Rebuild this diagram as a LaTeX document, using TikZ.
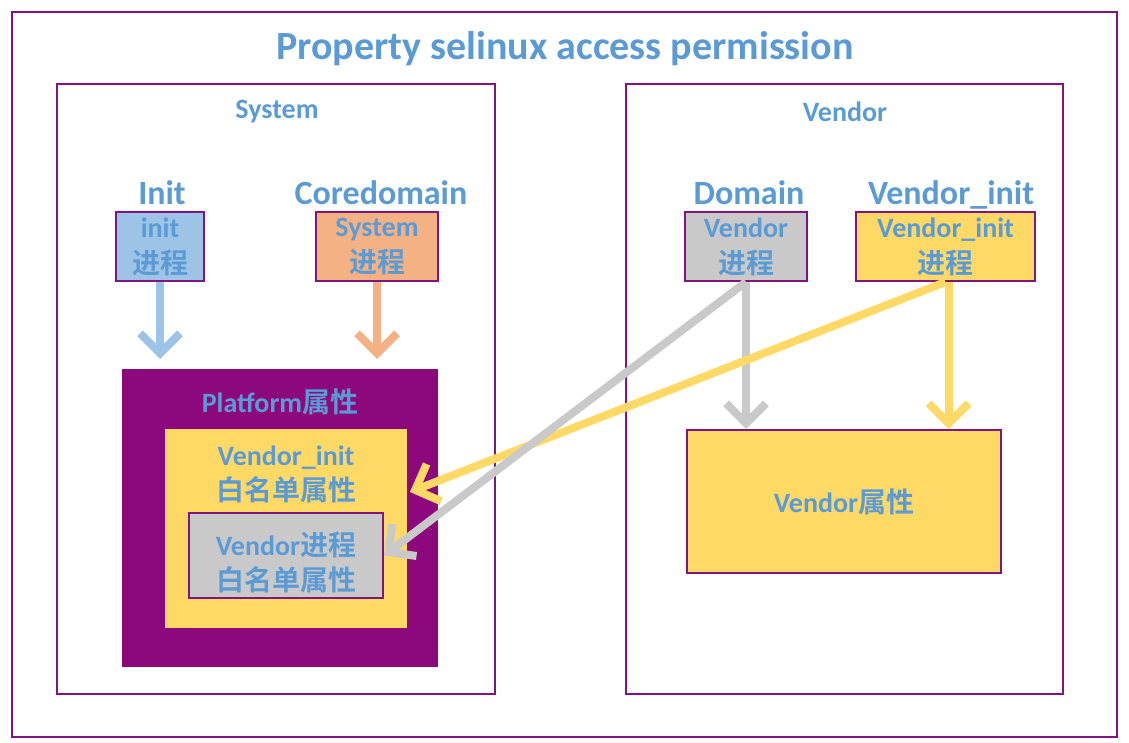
\documentclass[tikz,border=0pt]{standalone}
\usepackage{fontspec}
\setmainfont{Carlito}
\newfontfamily\cjk{Noto Sans CJK SC}[BoldFont={* Bold}]
\usetikzlibrary{arrows.meta,positioning}

\definecolor{txtblue}{RGB}{91,155,213}
\definecolor{lnpurple}{RGB}{128,20,128}
\definecolor{platpurple}{RGB}{140,8,124}
\definecolor{fillblue}{RGB}{157,195,230}
\definecolor{fillorange}{RGB}{244,177,131}
\definecolor{fillgray}{RGB}{201,201,201}
\definecolor{fillyellow}{RGB}{255,217,102}
\newcommand{\zh}[1]{{\cjk #1}}

\tikzset{
  area/.style={draw=lnpurple, line width=1.6pt, inner sep=0pt},
  box/.style={draw=lnpurple, line width=2pt, inner sep=0pt, align=center,
    font=\fontsize{28}{36}\selectfont\bfseries, text=txtblue},
  boxtxt/.style={inner sep=0pt, align=center, text=txtblue,
    font=\fontsize{28}{35}\selectfont\bfseries},
  toplbl/.style={inner sep=0pt, anchor=base, text=txtblue,
    font=\fontsize{34}{40}\selectfont\bfseries},
  flow/.style={line width=8pt, -{Straight Barb[length=20pt,width=40pt]}},
}

\begin{document}
\begin{tikzpicture}[x=1pt,y=-1pt]
\useasboundingbox (0,0) rectangle (1129,743);

% frame and title
\node[area, minimum width=1105pt, minimum height=725pt] (frame) at (564.5,374.5) {};
\node[boxtxt, font=\fontsize{40}{48}\selectfont\bfseries] (title) at (565,49) {Property selinux access permission};

% System side
\node[area, minimum width=438pt, minimum height=610pt] (sys) at (276,389) {};
\node[boxtxt] (syslbl) at (277,112) {System};
\node[toplbl] (initlbl) at (162,205) {Init};
\node[toplbl] (corelbl) at (381,205) {Coredomain};
\node[box, fill=fillblue, minimum width=88pt, minimum height=69pt] (initp) at (160,246.5) {init\\\zh{进程}};
\node[box, fill=fillorange, minimum width=122pt, minimum height=69pt] (sysp) at (377,246.5) {System\\\zh{进程}};

\node[box, draw=none, fill=platpurple, minimum width=316pt, minimum height=298pt] (plat) at (280,518) {};
\node[boxtxt] (platlbl) at (280,402) {Platform\zh{属性}};
\node[box, draw=none, fill=fillyellow, minimum width=242pt, minimum height=199pt] (vinitwl) at (286,528.5) {};
\node[boxtxt] (vinitwllbl) at (286,474) {Vendor\_init\\\zh{白名单属性}};
\node[box, fill=fillgray, minimum width=194pt, minimum height=85pt] (vendwl) at (286,555.5) {};
\node[boxtxt] (vendwllbl) at (286,563) {Vendor\zh{进程}\\\zh{白名单属性}};

% Vendor side
\node[area, minimum width=437pt, minimum height=610pt] (ven) at (844.5,389) {};
\node[boxtxt] (venlbl) at (845,112) {Vendor};
\node[toplbl] (domlbl) at (749,205) {Domain};
\node[toplbl] (vilbl) at (951,205) {Vendor\_init};
\node[box, fill=fillgray, minimum width=122pt, minimum height=69pt] (vendp) at (746,246.5) {Vendor\\\zh{进程}};
\node[box, fill=fillyellow, minimum width=179pt, minimum height=69pt] (vinitp) at (945.5,246.5) {Vendor\_init\\\zh{进程}};
\node[box, fill=fillyellow, minimum width=314pt, minimum height=143pt] (vprop) at (844,501.5) {Vendor\zh{属性}};

\coordinate (vinitin) at (410,492);

% access arrows
\draw[flow, fillblue] (initp.south) -- ([yshift=9pt]initp.south |- plat.north);
\draw[flow, fillorange] (sysp.south) -- ([yshift=9pt]sysp.south |- plat.north);
\draw[flow, fillgray] (vendp.south) -- (vendp.south |- vprop.north);
\draw[flow, fillyellow] (vinitp.south) -- (vinitin);
\draw[flow, fillgray] (vendp.south) -- (vendwl.east);
\draw[flow, fillyellow] ([xshift=3pt]vinitp.south) -- ([xshift=3pt]vinitp.south |- vprop.north);

\end{tikzpicture}
\end{document}
